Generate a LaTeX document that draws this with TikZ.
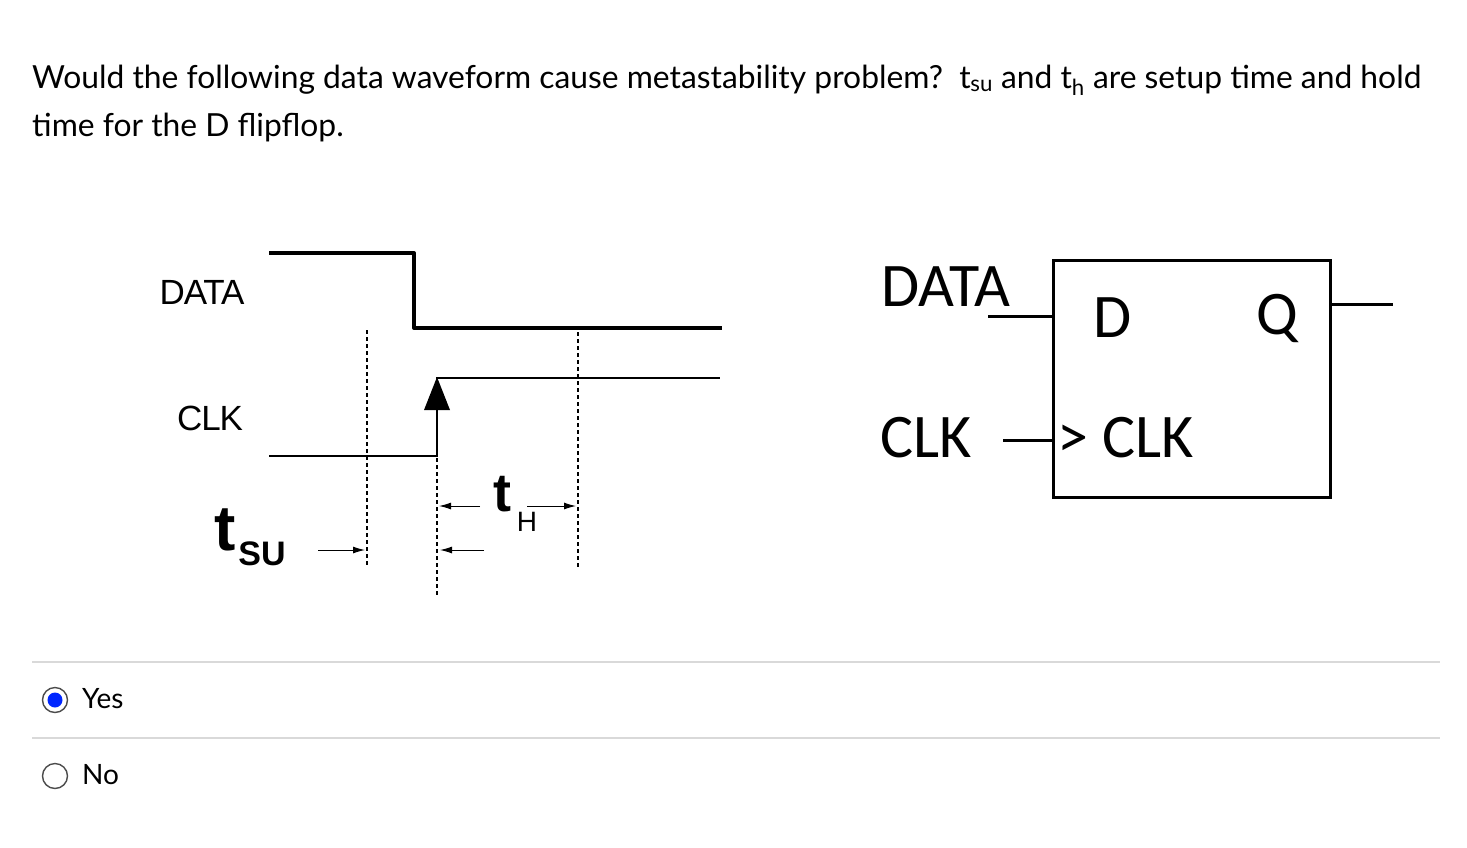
\documentclass[tikz,border=0pt]{standalone}
\usepackage{fontspec}
\setmainfont{Lato}
\newfontfamily\arialf{Liberation Sans}
\newfontfamily\calib{Carlito}
\usetikzlibrary{arrows.meta}
\begin{document}
\begin{tikzpicture}[x=1pt,y=-1pt,
  q/.style={font=\fontsize{31.8}{36}\selectfont,anchor=base west,inner sep=0},
  ans/.style={font=\fontsize{28}{32}\selectfont,anchor=base west,inner sep=0},
  lab/.style={font=\arialf\fontsize{35}{38}\selectfont\addfontfeature{LetterSpace=-3},inner sep=0},
  ff/.style={font=\calib\fontsize{62}{66}\selectfont,inner sep=0},
  dot/.style={line width=2.5pt,dash pattern=on 4pt off 3pt},
  dim/.style={line width=1pt,-{Latex[length=12pt,width=7pt]}},
  sep/.style={draw=black!15,line width=1.2pt}]
\useasboundingbox (0,0) rectangle (1467,847);
\fill[white] (0,0) rectangle (1467,847);
\node[q] (l1) at (32,88) {Would the following data waveform cause metastability problem?\ \ t\textsubscript{su} and t\textsubscript{h} are setup time and hold};
\node[q] (l2) at (32,136) {time for the D flipflop.};
% waveform
\node[lab] (dl) at (202,292) {DATA};
\node[lab] (cl) at (210,418) {CLK};
\coordinate (d0) at (269,253); \coordinate (d1) at (414,253);
\coordinate (d2) at (414,328); \coordinate (d3) at (722,328);
\draw[line width=4pt,line join=round] (d0) -- (d1) -- (d2) -- (d3);
\coordinate (c0) at (269,456); \coordinate (c1) at (437,456);
\coordinate (c2) at (437,378); \coordinate (c3) at (720,378);
\draw[line width=2.2pt] (c0) -- (c1) -- (c2) -- (c3);
\fill (437,377) -- (450,410) -- (424,410) -- cycle;
\coordinate (v1a) at (367,330); \coordinate (v1b) at (367,567);
\coordinate (v2a) at (437,458); \coordinate (v2b) at (437,595);
\coordinate (v3a) at (578,332); \coordinate (v3b) at (578,567);
\draw[dot] (v1a) -- (v1b);
\draw[dot] (v2a) -- (v2b);
\draw[dot] (v3a) -- (v3b);
\coordinate (h1) at (480,506); \coordinate (h1e) at (439,506);
\coordinate (h2) at (527,506); \coordinate (h2e) at (576,506);
\draw[dim] (h1) -- (h1e);
\draw[dim] (h2) -- (h2e);
\coordinate (s1) at (318,550); \coordinate (s1e) at (365,550);
\coordinate (s2) at (484,550); \coordinate (s2e) at (440,550);
\draw[dim] (s1) -- (s1e);
\draw[dim] (s2) -- (s2e);
\node[font=\arialf\bfseries\fontsize{64}{64}\selectfont,inner sep=0] (tsu) at (225,530) {t};
\node[font=\arialf\bfseries\fontsize{34}{34}\selectfont,inner sep=0] (su) at (262,554) {SU};
\node[font=\arialf\bfseries\fontsize{54}{54}\selectfont,inner sep=0] (th) at (502,494) {t};
\node[font=\arialf\fontsize{28}{28}\selectfont,inner sep=0] (hh) at (527,522) {H};
% flipflop
\node[draw,line width=3pt,minimum width=277pt,minimum height=237pt,inner sep=0] (box) at (1191.5,378.5) {};
\node[ff] (fd) at (946,287) {DATA};
\node[ff] (fc) at (926,438) {CLK};
\node[ff] (D) at (1113,318) {D};
\node[ff] (Q) at (1277,318) {Q};
\node[ff] (fck) at (1126,438) {> CLK};
\coordinate (di) at (988,316); \coordinate (ci) at (1003,440); \coordinate (qo) at (1393,304);
\draw[line width=3pt] (di) -- (di -| box.west);
\draw[line width=3pt] (ci) -- (ci -| box.west);
\draw[line width=3pt] (qo -| box.east) -- (qo);
% answers
\coordinate (a1) at (32,662); \coordinate (a2) at (1440,662);
\coordinate (b1) at (32,738); \coordinate (b2) at (1440,738);
\draw[sep] (a1) -- (a2);
\draw[sep] (b1) -- (b2);
\node[circle,draw=black!70,line width=1.4pt,minimum size=25pt,inner sep=0] (ry) at (55,700) {};
\node[circle,fill=blue!85!cyan,minimum size=15pt,inner sep=0] (ryd) at (55,700) {};
\node[circle,draw=black!70,line width=1.4pt,minimum size=25pt,inner sep=0] (rn) at (55,776) {};
\node[ans] (yes) at (82,708) {Yes};
\node[ans] (no) at (82,784) {No};
\end{tikzpicture}
\end{document}
